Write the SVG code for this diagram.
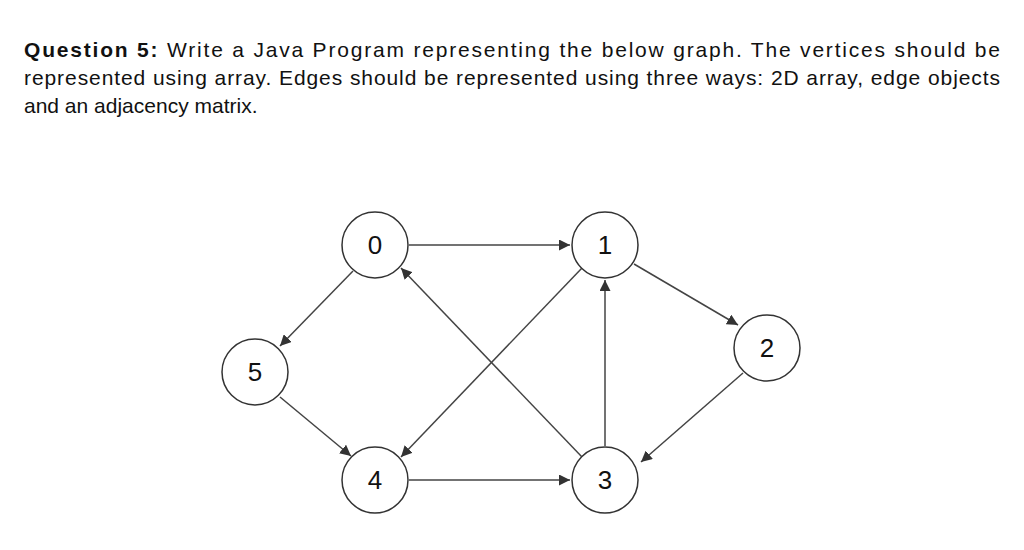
<svg xmlns="http://www.w3.org/2000/svg" width="1024" height="550" viewBox="0 0 1024 550">
<style>
text{font-family:"Liberation Sans",Arial,sans-serif;fill:#111}
.q{font-size:21px}
.n circle{fill:#fff;stroke:#333;stroke-width:1.5}
.n text{font-size:26px;text-anchor:middle}
.e line{stroke:#444;stroke-width:1.5;marker-end:url(#a)}
</style>
<defs><marker id="a" viewBox="0 0 10 10" refX="10" refY="5" markerWidth="11" markerHeight="11" markerUnits="userSpaceOnUse" orient="auto"><path d="M0,0L10,5L0,10z" fill="#333"/></marker></defs>
<rect width="1024" height="550" fill="#fff"/>
<text class="q" x="24" y="57" textLength="976" lengthAdjust="spacing"><tspan font-weight="bold">Question 5:</tspan> Write a Java Program representing the below graph. The vertices should be</text>
<text class="q" x="24" y="85" textLength="976" lengthAdjust="spacing">represented using array. Edges should be represented using three ways: 2D array, edge objects</text>
<text class="q" x="24" y="113">and an adjacency matrix.</text>
<g class="e" id="edges">
<line x1="409" y1="245" x2="570" y2="245"/>
<line x1="634" y1="264" x2="738" y2="325"/>
<line x1="743" y1="373" x2="641" y2="462"/>
<line x1="605" y1="446" x2="605" y2="280"/>
<line x1="582" y1="457" x2="401" y2="268"/>
<line x1="582" y1="268" x2="401" y2="457"/>
<line x1="353" y1="271" x2="280" y2="346"/>
<line x1="280" y1="397" x2="351" y2="456"/>
<line x1="409" y1="480" x2="570" y2="480"/>
</g>
<g class="n" id="n0"><circle cx="375" cy="245" r="33"/><text x="375" y="254">0</text></g>
<g class="n" id="n1"><circle cx="605" cy="245" r="33"/><text x="605" y="254">1</text></g>
<g class="n" id="n2"><circle cx="767" cy="348" r="33"/><text x="767" y="357">2</text></g>
<g class="n" id="n3"><circle cx="605" cy="480" r="33"/><text x="605" y="489">3</text></g>
<g class="n" id="n4"><circle cx="375" cy="480" r="33"/><text x="375" y="489">4</text></g>
<g class="n" id="n5"><circle cx="255" cy="372" r="33"/><text x="255" y="381">5</text></g>
</svg>
